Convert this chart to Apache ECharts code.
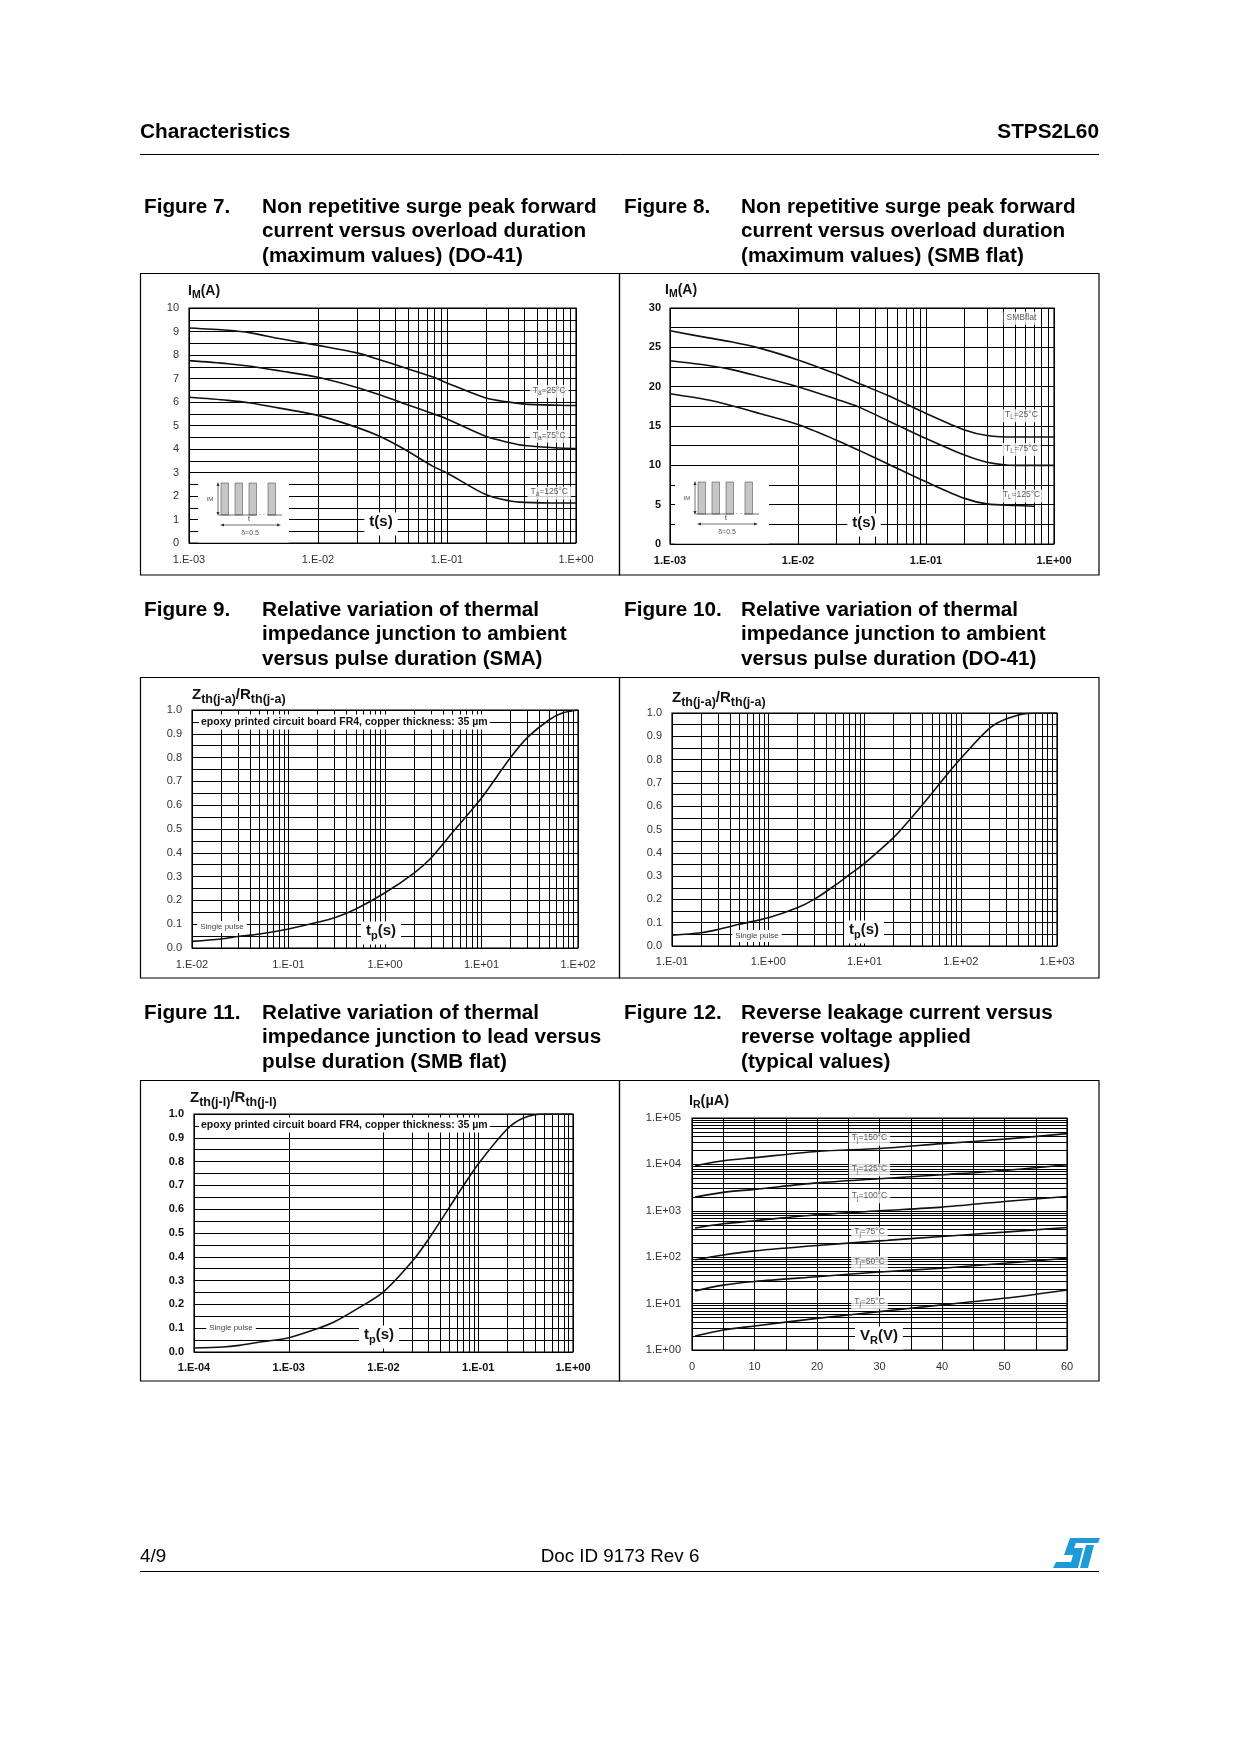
<!DOCTYPE html>
<html><head><meta charset="utf-8">
<script src="https://cdn.jsdelivr.net/npm/echarts@6/dist/echarts.min.js"></script>
<style>html,body{margin:0;padding:0;background:#fff}#c{width:1240px;height:1754px}</style>
</head><body><div id="c"></div><script>
const FONT = '"Liberation Sans", Arial, Helvetica, sans-serif';

// ---------- Figure 7 (DO-41) ----------
const fig7_t = [1e-3, 2e-3, 3e-3, 5e-3, 1e-2, 2e-2, 3e-2, 4.5e-2, 7.8e-2, 1e-1, 2e-1, 3e-1, 4e-1, 7.5e-1, 1];
const fig7_ta25 = [9.15, 9.05, 8.94, 8.70, 8.41, 8.09, 7.80, 7.49, 7.06, 6.81, 6.17, 6.00, 5.91, 5.86, 5.85];
const fig7_ta75 = [7.76, 7.63, 7.52, 7.33, 7.05, 6.62, 6.31, 5.96, 5.50, 5.28, 4.54, 4.28, 4.15, 4.04, 4.02];
const fig7_ta125 = [6.20, 6.07, 5.96, 5.74, 5.43, 4.92, 4.54, 4.04, 3.26, 2.98, 2.06, 1.80, 1.73, 1.70, 1.70];
const fig7_lblT = [0.62, 0.62, 0.62];
const fig7_lblY = [6.45, 4.54, 2.13];
const fig7_lblTxt = ['{m|T}{s|a}{m|=25°C}', '{m|T}{s|a}{m|=75°C}', '{m|T}{s|a}{m|=125°C}'];

// ---------- Figure 8 (SMB flat) ----------
const fig8_t = [1e-3, 2e-3, 3e-3, 5e-3, 1e-2, 2e-2, 3e-2, 5e-2, 1e-1, 2e-1, 3e-1, 5e-1, 1];
const fig8_tl25 = [27.1, 26.2, 25.7, 24.9, 23.4, 21.6, 20.4, 18.9, 16.6, 14.5, 13.8, 13.6, 13.6];
const fig8_tl75 = [23.3, 22.7, 22.2, 21.3, 20.0, 18.4, 17.4, 15.7, 13.4, 11.3, 10.4, 10.0, 10.0];
const fig8_t125 = [1e-3, 2e-3, 3e-3, 5e-3, 1e-2, 2e-2, 3e-2, 5e-2, 1e-1, 2e-1, 3e-1, 5e-1, 7e-1];
const fig8_tl125 = [19.1, 18.3, 17.6, 16.6, 15.2, 13.2, 11.9, 10.2, 7.9, 5.8, 5.1, 4.9, 4.8];
const fig8_lblT = [0.557, 0.557, 0.557, 0.557];
const fig8_lblY = [28.7, 16.3, 12.0, 6.1];
const fig8_lblTxt = ['{m|SMBflat}', '{m|T}{s|L}{m|=25°C}', '{m|T}{s|L}{m|=75°C}', '{m|T}{s|L}{m|=125°C}'];

// ---------- Figure 9 (SMA) ----------
const fig9_tp = [1e-2, 2e-2, 3e-2, 5e-2, 1e-1, 2e-1, 3e-1, 5e-1, 1, 2, 3, 5, 7, 10, 20, 30, 50, 70, 100];
const fig9_z = [0.028, 0.038, 0.048, 0.059, 0.080, 0.108, 0.127, 0.164, 0.232, 0.315, 0.378, 0.485, 0.555, 0.630, 0.800, 0.885, 0.958, 0.988, 1.0];

// ---------- Figure 10 (DO-41) ----------
const fig10_tp = [0.1, 0.2, 0.3, 0.5, 1, 2, 3, 5, 7, 10, 20, 30, 50, 70, 100, 200, 300, 500, 1000];
const fig10_z = [0.046, 0.057, 0.071, 0.093, 0.121, 0.164, 0.200, 0.262, 0.307, 0.355, 0.465, 0.545, 0.655, 0.730, 0.805, 0.935, 0.975, 0.998, 1.0];

// ---------- Figure 11 (SMB flat, junction to lead) ----------
const fig11_tp = [1e-4, 2e-4, 3e-4, 5e-4, 1e-3, 2e-3, 3e-3, 5e-3, 1e-2, 2e-2, 3e-2, 5e-2, 7e-2, 1e-1, 2e-1, 3e-1, 5e-1, 1];
const fig11_z = [0.017, 0.021, 0.028, 0.042, 0.060, 0.098, 0.126, 0.176, 0.253, 0.380, 0.475, 0.610, 0.700, 0.790, 0.935, 0.983, 1.0, 1.0];

// ---------- Figure 12 (reverse leakage) ----------
const fig12_vr = [0.5, 5, 10, 20, 30, 40, 50, 60];
const fig12_tj150 = [9400, 12000, 14000, 19000, 22000, 28000, 35000, 46000];
const fig12_tj125 = [1970, 2500, 2900, 4000, 4900, 6000, 7400, 9800];
const fig12_tj100 = [425, 525, 610, 820, 1000, 1200, 1590, 2040];
const fig12_tj75 = [88, 112, 137, 179, 225, 280, 347, 437];
const fig12_tj50 = [18.8, 25, 30, 38, 48, 58, 74, 95];
const fig12_tj25 = [2.0, 2.7, 3.3, 4.8, 6.7, 9.4, 13, 19.7];
const fig12_lblV = [28.4, 28.4, 28.4, 28.4, 28.4, 28.4];
const fig12_lblI = [35000, 7600, 2000, 330, 76, 10.5];
const fig12_lblTxt = ['{m|T}{s|j}{m|=150°C}', '{m|T}{s|j}{m|=125°C}', '{m|T}{s|j}{m|=100°C}', '{m|T}{s|j}{m|=75°C}', '{m|T}{s|j}{m|=50°C}', '{m|T}{s|j}{m|=25°C}'];

// ---------- page texts ----------
const headerLeft = 'Characteristics';
const headerRight = 'STPS2L60';
const figTitles = [
  {n: 'Figure 7.', x: 144, tx: 262, y: 207, lines: ['Non repetitive surge peak forward', 'current versus overload duration', '(maximum values) (DO-41)']},
  {n: 'Figure 8.', x: 624, tx: 741, y: 207, lines: ['Non repetitive surge peak forward', 'current versus overload duration', '(maximum values) (SMB flat)']},
  {n: 'Figure 9.', x: 144, tx: 262, y: 610, lines: ['Relative variation of thermal', 'impedance junction to ambient', 'versus pulse duration (SMA)']},
  {n: 'Figure 10.', x: 624, tx: 741, y: 610, lines: ['Relative variation of thermal', 'impedance junction to ambient', 'versus pulse duration (DO-41)']},
  {n: 'Figure 11.', x: 144, tx: 262, y: 1013, lines: ['Relative variation of thermal', 'impedance junction to lead versus', 'pulse duration (SMB flat)']},
  {n: 'Figure 12.', x: 624, tx: 741, y: 1013, lines: ['Reverse leakage current versus', 'reverse voltage applied', '(typical values)']}
];
const footerLeft = '4/9';
const footerCenter = 'Doc ID 9173 Rev 6';
const epoxyTxt = 'epoxy printed circuit board FR4, copper thickness: 35 µm';

// ---------- helpers ----------
function logLabel(v) {
  const e = Math.round(Math.log10(v));
  const a = Math.abs(e);
  return '1.E' + (e < 0 ? '-' : '+') + (a < 10 ? '0' : '') + a;
}
function logMinor(min, max) {
  const out = [];
  for (let d = min; d < max * 0.999; d *= 10)
    for (let k = 2; k <= 9; k++) out.push(+(d * k).toPrecision(6));
  return out;
}
const lblReg = {fontSize: 11, color: '#333', fontFamily: FONT};
const lblBold = {fontSize: 11, color: '#111', fontWeight: 'bold', fontFamily: FONT};
const gridLine = {show: true, lineStyle: {color: '#000', width: 1}};

function logAxis(gi, min, max, lbl, margin) {
  return {type: 'log', logBase: 10, gridIndex: gi, min: min, max: max,
    axisLine: {show: false}, axisTick: {show: false},
    axisLabel: Object.assign({}, lbl, {margin: margin, formatter: logLabel}),
    splitLine: gridLine};
}
function valAxis(gi, min, max, interval, lbl, margin, fmt) {
  return {type: 'value', gridIndex: gi, min: min, max: max, interval: interval,
    axisLine: {show: false}, axisTick: {show: false},
    axisLabel: Object.assign({}, lbl, {margin: margin, formatter: fmt}),
    splitLine: gridLine,
    minorTick: {show: false, splitNumber: 2},
    minorSplitLine: gridLine};
}
function curve(gi, xs, ys, minorVals, minorDim) {
  const s = {type: 'line', xAxisIndex: gi, yAxisIndex: gi, silent: true,
    data: xs.map((x, i) => [x, ys[i]]), showSymbol: false, symbol: 'none',
    smooth: 0.3, lineStyle: {color: '#111', width: 1.6}, z: 3};
  if (minorVals) {
    s.markLine = {silent: true, z: 1, animation: false, symbol: ['none', 'none'],
      label: {show: false}, emphasis: {disabled: true},
      lineStyle: {color: '#000', width: 1, type: 'solid'},
      data: minorVals.map(v => ({[minorDim]: v}))};
  }
  return s;
}
function labels(gi, xs, ys, texts, fs) {
  return {type: 'scatter', xAxisIndex: gi, yAxisIndex: gi, silent: true, z: 10,
    symbolSize: 1, itemStyle: {color: 'rgba(0,0,0,0)'},
    data: xs.map((x, i) => ({value: [x, ys[i]], name: texts[i]})),
    label: {show: true, position: 'inside', formatter: p => p.name,
      backgroundColor: '#fff', padding: [1, 3],
      rich: {m: {fontSize: fs, color: '#333', fontFamily: FONT, padding: [0, 0, 2, 0]},
             s: {fontSize: fs - 2, color: '#333', fontFamily: FONT, padding: [3, 0, 0, 0]}}}};
}

// ---------- graphic helpers ----------
const G = [];
function txt(x, y, text, o) {
  G.push({type: 'text', x: x, y: y, z: 60, silent: true,
    style: Object.assign({text: text, fontFamily: FONT, fontSize: 12, fill: '#000', align: 'left', verticalAlign: 'middle'}, o || {})});
}
function seg(x1, y1, x2, y2, w, c, z) {
  G.push({type: 'line', z: z || 60, silent: true, shape: {x1: x1, y1: y1, x2: x2, y2: y2}, style: {stroke: c || '#000', lineWidth: w || 1}});
}
function box(x, y, w, h) {
  G.push({type: 'rect', z: 60, silent: true, shape: {x: x, y: y, width: w, height: h}, style: {fill: 'none', stroke: '#000', lineWidth: 1.2}});
}
function tri(pts, z) {
  G.push({type: 'polygon', z: z || 42, silent: true, shape: {points: pts}, style: {fill: '#333'}});
}
function richTitle(x, y, text, big, small, o) {
  txt(x, y, text, Object.assign({rich: {
    m: {fontSize: big, fontWeight: 'bold', fontFamily: FONT, fill: '#111', padding: [0, 0, 4, 0]},
    s: {fontSize: small, fontWeight: 'bold', fontFamily: FONT, fill: '#111', padding: [5, 0, 0, 0]}}}, o || {}));
}
function inset(ox, oy, w, h) {
  G.push({type: 'rect', z: 40, silent: true, shape: {x: ox, y: oy, width: w, height: h}, style: {fill: '#fff'}});
  [23, 37, 51, 70].forEach(p => G.push({type: 'rect', z: 41, silent: true,
    shape: {x: ox + p, y: oy + 6, width: 7.5, height: 32}, style: {fill: '#c6c6c6', stroke: '#555', lineWidth: 0.6}}));
  seg(ox + 21, oy + 38, ox + 59, oy + 38, 0.7, '#333', 42);
  txt(ox + 64, oy + 36, '. .', {fontSize: 7, fill: '#333', align: 'center'});
  seg(ox + 69, oy + 38, ox + 84, oy + 38, 0.7, '#333', 42);
  seg(ox + 20, oy + 7, ox + 20, oy + 37, 0.7, '#333', 42);
  tri([[ox + 20, oy + 5], [ox + 18.5, oy + 9], [ox + 21.5, oy + 9]]);
  tri([[ox + 20, oy + 39], [ox + 18.5, oy + 35], [ox + 21.5, oy + 35]]);
  txt(ox + 12, oy + 22, 'IM', {fontSize: 6, fill: '#555', align: 'center'});
  txt(ox + 51, oy + 42.5, 't', {fontSize: 7, fill: '#333', align: 'center'});
  seg(ox + 24, oy + 48, ox + 81, oy + 48, 0.7, '#333', 42);
  tri([[ox + 22, oy + 48], [ox + 26, oy + 46.5], [ox + 26, oy + 49.5]]);
  tri([[ox + 83, oy + 48], [ox + 79, oy + 46.5], [ox + 79, oy + 49.5]]);
  txt(ox + 52, oy + 56, 'δ=0.5', {fontSize: 7, fill: '#555', align: 'center'});
}
function whiteLabel(x, y, text, fs, o) {
  txt(x, y, text, Object.assign({fontSize: fs, backgroundColor: '#fff', padding: [2, 3]}, o || {}));
}

// ---------- page frame ----------
txt(140, 132, headerLeft, {fontSize: 20.8, fontWeight: 'bold'});
txt(1099, 132, headerRight, {fontSize: 20.8, fontWeight: 'bold', align: 'right'});
seg(140, 154.5, 1099, 154.5, 1);
figTitles.forEach(f => {
  txt(f.x, f.y, f.n, {fontSize: 20.7, fontWeight: 'bold'});
  f.lines.forEach((l, i) => txt(f.tx, f.y + i * 24.5, l, {fontSize: 20.7, fontWeight: 'bold'}));
});
box(140.5, 273.5, 479, 301.5); box(619.5, 273.5, 479.5, 301.5);
box(140.5, 677.5, 479, 300.5); box(619.5, 677.5, 479.5, 300.5);
box(140.5, 1080.5, 479, 300.5); box(619.5, 1080.5, 479.5, 300.5);
txt(140, 1557, footerLeft, {fontSize: 18.8});
txt(620, 1557, footerCenter, {fontSize: 18.8, align: 'center'});
seg(140, 1571.5, 1099, 1571.5, 1.2);
// ST logo
G.push({type: 'polygon', z: 60, silent: true, shape: {points: [[1070, 1538], [1100, 1538], [1098, 1543], [1076, 1543], [1074, 1548], [1083, 1548], [1078, 1568], [1053, 1568], [1056, 1562], [1071, 1562], [1073, 1555], [1064, 1555]]}, style: {fill: '#1E9BD7'}});
G.push({type: 'polygon', z: 60, silent: true, shape: {points: [[1086, 1545], [1094, 1545], [1088, 1568], [1080, 1568]]}, style: {fill: '#1E9BD7'}});

// ---------- annotations inside plots ----------
richTitle(188, 293, '{m|I}{s|M}{m|(A)}', 14, 10.5);
richTitle(665, 292, '{m|I}{s|M}{m|(A)}', 14, 10.5);
richTitle(192, 697, '{m|Z}{s|th(j-a)}{m|/R}{s|th(j-a)}', 15, 12.5);
richTitle(672, 700, '{m|Z}{s|th(j-a)}{m|/R}{s|th(j-a)}', 15, 12.5);
richTitle(190, 1100, '{m|Z}{s|th(j-l)}{m|/R}{s|th(j-l)}', 15, 12.5);
richTitle(689, 1103, '{m|I}{s|R}{m|(µA)}', 14.5, 10.5);

inset(198, 477, 91, 65.5);
inset(675, 476, 94, 67.5);

const tBox = {align: 'center', backgroundColor: '#fff', padding: [2, 5]};
richTitle(381, 524, '{m|t(s)}', 15, 11, tBox);
richTitle(864, 525, '{m|t(s)}', 15, 11, tBox);
richTitle(381, 933, '{m|t}{s|p}{m|(s)}', 15, 11, tBox);
richTitle(864, 932, '{m|t}{s|p}{m|(s)}', 15, 11, tBox);
richTitle(379, 1337, '{m|t}{s|p}{m|(s)}', 15, 11, tBox);
richTitle(879, 1338, '{m|V}{s|R}{m|(V)}', 15, 11, tBox);

whiteLabel(199, 722, epoxyTxt, 10.5, {fontWeight: 'bold', fill: '#111', padding: [2, 2]});
whiteLabel(199, 1125, epoxyTxt, 10.5, {fontWeight: 'bold', fill: '#111', padding: [2, 2]});
whiteLabel(222, 927, 'Single pulse', 8, {align: 'center', fill: '#444'});
whiteLabel(757, 936, 'Single pulse', 8, {align: 'center', fill: '#444'});
whiteLabel(231, 1328, 'Single pulse', 8, {align: 'center', fill: '#444'});

// ---------- chart ----------
const chart = echarts.init(document.getElementById('c'), null, {renderer: 'canvas', width: 1240, height: 1754});
const gridBase = {show: true, borderColor: '#000', borderWidth: 1.2, backgroundColor: 'transparent', containLabel: false};
const one = v => String(Math.round(v));
const dec1 = v => v.toFixed(1);

chart.setOption({
  animation: false,
  backgroundColor: '#fff',
  grid: [
    Object.assign({left: 189, top: 308, width: 387, height: 235}, gridBase),
    Object.assign({left: 670, top: 308, width: 384, height: 236}, gridBase),
    Object.assign({left: 192, top: 710, width: 386, height: 238}, gridBase),
    Object.assign({left: 672, top: 713, width: 385, height: 233}, gridBase),
    Object.assign({left: 194, top: 1114, width: 379, height: 238}, gridBase),
    Object.assign({left: 692, top: 1118, width: 375, height: 232}, gridBase)
  ],
  xAxis: [
    logAxis(0, 1e-3, 1, lblReg, 11),
    logAxis(1, 1e-3, 1, lblBold, 11),
    logAxis(2, 1e-2, 100, lblReg, 11),
    logAxis(3, 1e-1, 1000, lblReg, 10),
    logAxis(4, 1e-4, 1, lblBold, 10),
    valAxis(5, 0, 60, 10, lblReg, 11, one)
  ],
  yAxis: [
    valAxis(0, 0, 10, 1, lblReg, 10, one),
    valAxis(1, 0, 30, 5, lblBold, 9, one),
    valAxis(2, 0, 1, 0.1, lblReg, 10, dec1),
    valAxis(3, 0, 1, 0.1, lblReg, 10, dec1),
    valAxis(4, 0, 1, 0.1, lblBold, 10, dec1),
    logAxis(5, 1, 1e5, lblReg, 11)
  ],
  series: [
    curve(0, fig7_t, fig7_ta25, logMinor(1e-3, 1), 'xAxis'),
    curve(0, fig7_t, fig7_ta75),
    curve(0, fig7_t, fig7_ta125),
    labels(0, fig7_lblT, fig7_lblY, fig7_lblTxt, 8.5),

    curve(1, fig8_t, fig8_tl25, logMinor(1e-3, 1), 'xAxis'),
    curve(1, fig8_t, fig8_tl75),
    curve(1, fig8_t125, fig8_tl125),
    labels(1, fig8_lblT, fig8_lblY, fig8_lblTxt, 8.5),

    curve(2, fig9_tp, fig9_z, logMinor(1e-2, 100), 'xAxis'),
    curve(3, fig10_tp, fig10_z, logMinor(1e-1, 1000), 'xAxis'),
    curve(4, fig11_tp, fig11_z, logMinor(1e-4, 1), 'xAxis'),

    curve(5, fig12_vr, fig12_tj150, logMinor(1, 1e5), 'yAxis'),
    curve(5, fig12_vr, fig12_tj125),
    curve(5, fig12_vr, fig12_tj100),
    curve(5, fig12_vr, fig12_tj75),
    curve(5, fig12_vr, fig12_tj50),
    curve(5, fig12_vr, fig12_tj25),
    labels(5, fig12_lblV, fig12_lblI, fig12_lblTxt, 8.5)
  ],
  graphic: {elements: G}
});
</script></body></html>
